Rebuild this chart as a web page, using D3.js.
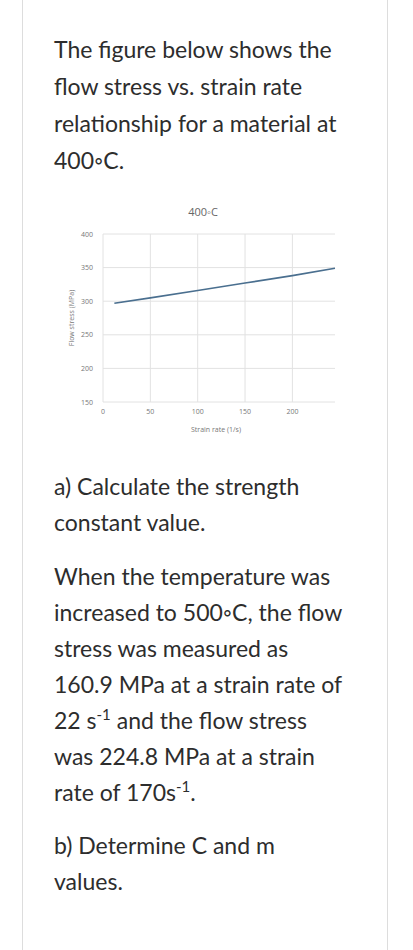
<!DOCTYPE html><html><head><script src="https://cdn.jsdelivr.net/npm/d3@7"></script>
<style>body{margin:0;background:#fff;font-family:Lato,sans-serif}</style></head><body><svg id="c" width="413" height="950"></svg>
<script>
const strainRate=[12,50,100,150,200,245];
const flowStress=[297,305,316,327,338,349];
const xTicks=[0,50,100,150,200];
const yTicks=[150,200,250,300,350,400];
const topText=["The figure below shows the","flow stress vs. strain rate","relationship for a material at","400◦C."];
const botText=[["a) Calculate the strength",495],["constant value.",531],["When the temperature was",585],["increased to 500◦C, the flow",621],["stress was measured as",657],["160.9 MPa at a strain rate of",693],["22 s<sup>-1</sup> and the flow stress",729],["was 224.8 MPa at a strain",765],["rate of 170s<sup>-1</sup>.",801],["b) Determine C and m",854],["values.",890]];
const svg=d3.select("#c");
svg.append("rect").attr("x",22.5).attr("y",-2).attr("width",365).attr("height",960).attr("fill","none").attr("stroke","#ddd");
topText.forEach((t,i)=>svg.append("text").attr("x",54).attr("y",58+i*37).attr("font-size",23).attr("fill","#2d2d2d").text(t));
botText.forEach(([t,y])=>{const e=svg.append("text").attr("x",54).attr("y",y).attr("font-size",23).attr("fill","#2d2d2d");
 const m=t.split(/<sup>|<\/sup>/);m.forEach((s,i)=>{const ts=e.append("tspan").text(s);if(i%2){ts.attr("dy",-9).attr("font-size",15);}else if(i>0){ts.attr("dy",9);}});});
const x=d3.scaleLinear().domain([0,245]).range([103,335]);
const y=d3.scaleLinear().domain([150,400]).range([402,234]);
const g=svg.append("g").attr("font-family","'Open Sans',sans-serif");
g.selectAll(".hg").data(yTicks).join("line").attr("x1",103).attr("x2",335).attr("y1",d=>y(d)).attr("y2",d=>y(d)).attr("stroke","#e2e2e2");
g.selectAll(".vg").data(xTicks).join("line").attr("y1",234).attr("y2",402).attr("x1",d=>x(d)).attr("x2",d=>x(d)).attr("stroke","#e2e2e2");
g.selectAll(".yt").data(yTicks).join("text").attr("x",93).attr("y",d=>y(d)+2.5).attr("text-anchor","end").attr("font-size",7).attr("fill","#777").text(d=>d);
g.selectAll(".xt").data(xTicks).join("text").attr("x",d=>x(d)).attr("y",414).attr("text-anchor","middle").attr("font-size",7).attr("fill","#777").text(d=>d);
g.append("text").attr("x",203).attr("y",216).attr("text-anchor","middle").attr("font-size",11).attr("fill","#666").text("400◦C");
g.append("text").attr("x",216).attr("y",432).attr("text-anchor","middle").attr("font-size",7).attr("fill","#777").text("Strain rate (1/s)");
g.append("text").attr("transform","translate(74,318) rotate(-90)").attr("text-anchor","middle").attr("font-size",7).attr("fill","#777").text("Flow stress (MPa)");
g.append("path").datum(strainRate.map((d,i)=>[d,flowStress[i]])).attr("fill","none").attr("stroke","#4a6f8f").attr("stroke-width",1.6)
 .attr("d",d3.line().x(d=>x(d[0])).y(d=>y(d[1])));
</script></body></html>
